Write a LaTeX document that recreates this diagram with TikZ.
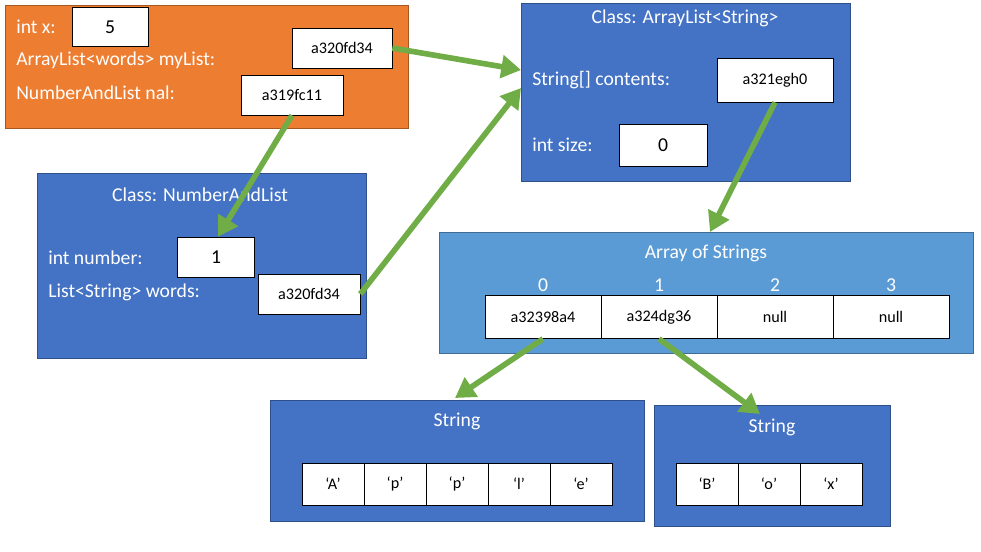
\documentclass[tikz,border=0pt]{standalone}
\usepackage{fontspec}
\setmainfont{Carlito}
\usepackage{tikz}
\usetikzlibrary{positioning, arrows.meta}
\definecolor{orng}{HTML}{ED7D31}
\definecolor{blu}{HTML}{4472C4}
\definecolor{lblu}{HTML}{5B9BD5}
\definecolor{grn}{HTML}{70AD47}

\begin{document}
\begin{tikzpicture}[x=0.025cm, y=-0.025cm,
  panel/.style={draw=#1!70!black, fill=#1},
  cell/.style={rectangle, draw=black, fill=white, inner sep=0pt, font=\fontsize{11.5}{12}\selectfont},
  lbl/.style={anchor=west, inner sep=0pt, font=\fontsize{14}{15}\selectfont, text=white},
  ttl/.style={inner sep=0pt, font=\fontsize{14}{15}\selectfont, text=white},
  ptr/.style={-{Triangle[length=14pt, width=16pt]}, grn, line width=4pt}]
\useasboundingbox (0,0) rectangle (981,552);

% Frames
\draw[panel=orng] (5,5) rectangle (408,128);
\draw[panel=blu] (37,173) rectangle (366,358);
\draw[panel=blu] (521,3) rectangle (850,181);
\draw[panel=lblu] (439,232) rectangle (973,353);
\draw[panel=blu] (270,400) rectangle (644,521);
\draw[panel=blu] (654,405) rectangle (890,526);

% Local variables
\node[lbl] (lx) at (16,27) {int x:};
\node[cell, minimum width=76\pgflinewidth] (vx) at (110,27) [minimum width=1.9cm, minimum height=0.98cm, font=\fontsize{14}{15}\selectfont] {5};
\node[lbl] (llist) at (16,60) {ArrayList<words> myList:};
\node[cell, minimum width=2.5cm, minimum height=1cm] (vlist) at (342,48) {a320fd34};
\node[lbl] (lnal) at (16,93) {NumberAndList nal:};
\node[cell, minimum width=2.55cm, minimum height=1cm] (vnal) at (292,95) {a319fc11};

% NumberAndList
\node[ttl] (tnal) at (200,195) {Class: NumberAndList};
\node[lbl] (lnum) at (48,258) {int number:};
\node[cell, minimum width=1.92cm, minimum height=1cm, font=\fontsize{14}{15}\selectfont] (vnum) at (216,257) {1};
\node[lbl] (lwords) at (48,292) {List<String> words:};
\node[cell, minimum width=2.55cm, minimum height=1cm] (vwords) at (309,294) {a320fd34};

% ArrayList
\node[ttl] (tal) at (685,18) {Class: ArrayList<String>};
\node[lbl] (lcont) at (532,80) {String[] contents:};
\node[cell, minimum width=2.9cm, minimum height=1.1cm] (vcont) at (775,80) {a321egh0};
\node[lbl] (lsize) at (532,145) {int size:};
\node[cell, minimum width=2.2cm, minimum height=1.05cm, font=\fontsize{14}{15}\selectfont] (vsize) at (663,145) {0};

% Array of Strings
\node[ttl] (tarr) at (706,253) {Array of Strings};
\foreach \i/\x/\v in {0/543/a32398a4, 1/659/a324dg36, 2/775/null, 3/891/null} {
  \node[ttl] (idx\i) at (\x,285) {\i};
  \node[cell, minimum width=2.9cm, minimum height=1.075cm] (arr\i) at (\x,317) {\v};
}

% Strings
\node[ttl] (ts1) at (457,421) {String};
\foreach \c [count=\k] in {‘A’,‘p’,‘p’,‘l’,‘e’}
  \node[cell, minimum width=1.55cm, minimum height=1.05cm] (sa\k) at (302+62*\k-31,484) {\c};
\node[ttl] (ts2) at (772,427) {String};
\foreach \c [count=\k] in {‘B’,‘o’,‘x’}
  \node[cell, minimum width=1.55cm, minimum height=1.05cm] (sb\k) at (676+62*\k-31,484) {\c};

% Pointers
\coordinate (hal) at (521,70);
\coordinate (hal2) at (521,88);
\draw[ptr] (vlist.east) -- (hal);
\draw[ptr] (vnal.south) -- (vnum.north -| 218,0);
\draw[ptr] (vwords.east) -- (hal2);
\draw[ptr] (vcont.south) -- (710,232);
\draw[ptr] (arr0.south) -- (455,398);
\draw[ptr] (arr1.south) -- (760,414);
\end{tikzpicture}
\end{document}
